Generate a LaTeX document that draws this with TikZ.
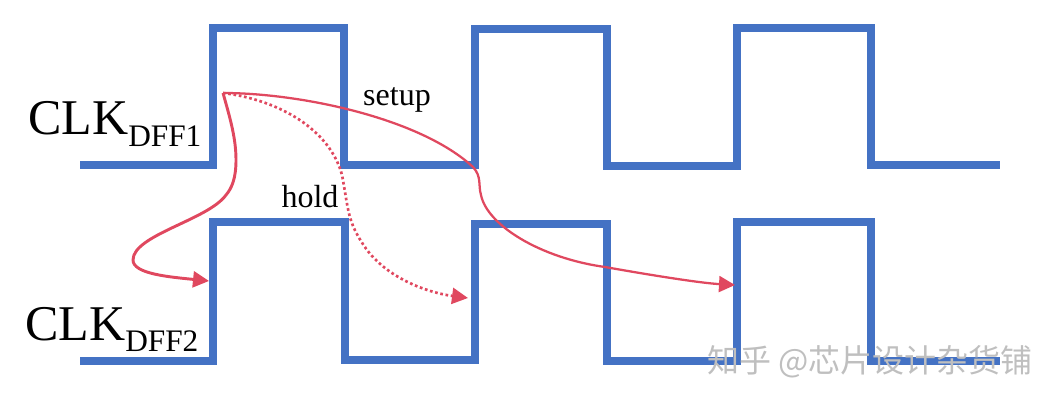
\documentclass[tikz,border=0pt]{standalone}
\usepackage{fontspec}
\setmainfont{Liberation Serif}
\newfontfamily\cjk{Noto Sans CJK SC}
\usetikzlibrary{arrows.meta}

\newcommand{\clklabel}[1]{\fontsize{37.5}{40}\selectfont CLK\raisebox{-8.5pt}{\fontsize{23.5}{26}\selectfont #1}}

\begin{document}
\begin{tikzpicture}[
        x=0.75pt, y=-0.75pt,
        wave/.style={draw=waveblue, line width=5.6pt, miter limit=10},
        skew/.style={draw=skewred, -{Triangle[length=12pt, width=12pt]}},
        clktext/.style={anchor=base west, inner sep=0pt},
        tagtext/.style={inner sep=0pt, font=\fontsize{24}{26}\selectfont}
    ]
    \definecolor{waveblue}{HTML}{4472C4}
    \definecolor{skewred}{HTML}{E0485F}
    \useasboundingbox (0, 0) rectangle (1059, 406);

    % the two clocks
    \draw[wave] (80, 165) -| (213, 28) -| (344, 165) -| (475, 29) -| (607, 166) -| (737, 28) -| (871, 165) -- (1000, 165);
    \draw[wave] (80, 361) -| (213, 222) -| (345, 360) -| (475, 224) -| (607, 361) -| (737, 222) -| (871, 361) -- (1000, 361);

    \node[clktext] (clkOne) at (28, 135) {\clklabel{DFF1}};
    \node[clktext] (clkTwo) at (25, 340) {\clklabel{DFF2}};
    \node[tagtext] (setupTag) at (397, 100) {setup};
    \node[tagtext] (holdTag) at (310, 197) {hold};

    \coordinate (launch) at (223, 93);
    \coordinate (captureNear) at (209, 281);
    \coordinate (captureHold) at (468, 298);
    \coordinate (captureSetup) at (735, 285);

    \draw[skew, line width=2.2pt] (launch) .. controls (230, 118) and (236, 138) .. (236, 160)
        .. controls (236, 178) and (232, 188) .. (226, 195)
        .. controls (208, 220) and (133, 235) .. (133, 260)
        .. controls (133, 274) and (170, 277) .. (captureNear);
    \draw[skew, line width=1.7pt] (launch) .. controls (300, 93) and (420, 118) .. (473, 167)
        .. controls (482, 177) and (478, 185) .. (481, 195)
        .. controls (487, 225) and (540, 258) .. (605, 267)
        .. controls (650, 275) and (700, 283) .. (captureSetup);
    \draw[skew, line width=2pt, dash pattern=on 2pt off 2pt] (launch) .. controls (280, 100) and (330, 130) .. (342, 175)
        .. controls (349, 212) and (347, 222) .. (367, 250)
        .. controls (390, 280) and (430, 293) .. (captureHold);

    \node[inner sep=0pt, text=black!25, font=\cjk\fontsize{24}{26}\selectfont] (watermark) at (870, 362) {知乎 @芯片设计杂货铺};
\end{tikzpicture}
\end{document}
